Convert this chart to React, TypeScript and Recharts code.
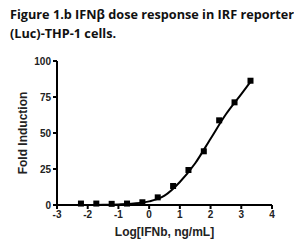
import React from 'react';
import { ComposedChart, Line, Scatter, XAxis, YAxis } from 'recharts';

const logDose = [-2.22, -1.72, -1.22, -0.72, -0.22, 0.28, 0.78, 1.28, 1.78, 2.28, 2.78, 3.3];
const foldInduction = [1, 1, 0.8, 1, 1.9, 5.3, 13.2, 24.3, 37.3, 58.8, 71.3, 86.3];

const fitX = [-2.22, -1.5, -1, -0.5, 0, 0.5, 1, 1.5, 2, 2.5, 3, 3.3];
const fitY = [0, 0.1, 0.4, 1, 2.5, 6.5, 16, 29, 46, 63, 77, 85.5];

const xTicks = [-3, -2, -1, 0, 1, 2, 3, 4];
const yTicks = [0, 25, 50, 75, 100];

const points = logDose.map((x, i) => ({ x, y: foldInduction[i] }));
const curve = fitX.map((x, i) => ({ x, y: fitY[i] }));

const font = 'Liberation Sans, Arial, sans-serif';

const SquareDot = (props: any) => {
  const { cx, cy } = props;
  return <rect x={cx - 3} y={cy - 3} width={6} height={6} fill="#000" />;
};

const App = () => {
  return (
    <div style={{ position: 'absolute', left: 0, top: 0, width: 294, height: 252, background: '#fff' }}>
      <div
        style={{
          position: 'absolute',
          left: 10,
          top: 5,
          whiteSpace: 'nowrap',
          fontFamily: 'Open Sans, sans-serif',
          fontWeight: 700,
          fontSize: 12.7,
          lineHeight: '19px',
          color: '#111',
        }}
      >
        Figure 1.b IFNβ dose response in IRF reporter
        <br />
        (Luc)-THP-1 cells.
      </div>
      <div style={{ position: 'absolute', left: 0, top: 0 }}>
        <ComposedChart width={294} height={252} margin={{ top: 61, right: 22, bottom: 27, left: 27 }}>
          <XAxis
            dataKey="x"
            type="number"
            domain={[-3, 4]}
            ticks={xTicks}
            interval={0}
            height={20}
            axisLine={{ stroke: '#000', strokeWidth: 2 }}
            tickLine={{ stroke: '#000', strokeWidth: 2 }}
            tickSize={4}
            tick={{ fill: '#222', fontSize: 10, fontWeight: 700, fontFamily: font }}
          />
          <YAxis
            dataKey="y"
            type="number"
            domain={[0, 100]}
            ticks={yTicks}
            interval={0}
            width={30}
            axisLine={{ stroke: '#000', strokeWidth: 2 }}
            tickLine={{ stroke: '#000', strokeWidth: 2 }}
            tickSize={4}
            tick={{ fill: '#222', fontSize: 10, fontWeight: 700, fontFamily: font }}
          />
          <Line
            data={curve}
            dataKey="y"
            type="monotone"
            stroke="#000"
            strokeWidth={2}
            dot={false}
            activeDot={false}
            isAnimationActive={false}
          />
          <Scatter data={points} dataKey="y" shape={SquareDot} isAnimationActive={false} />
        </ComposedChart>
      </div>
      <div
        style={{
          position: 'absolute',
          left: 57,
          width: 215,
          top: 225,
          textAlign: 'center',
          fontFamily: font,
          fontWeight: 700,
          fontSize: 12,
          color: '#222',
        }}
      >
        Log[IFNb, ng/mL]
      </div>
      <div
        style={{
          position: 'absolute',
          left: 23,
          top: 133,
          transform: 'translate(-50%, -50%) rotate(-90deg)',
          whiteSpace: 'nowrap',
          fontFamily: font,
          fontWeight: 700,
          fontSize: 12,
          color: '#222',
        }}
      >
        Fold Induction
      </div>
    </div>
  );
};

export default App;
